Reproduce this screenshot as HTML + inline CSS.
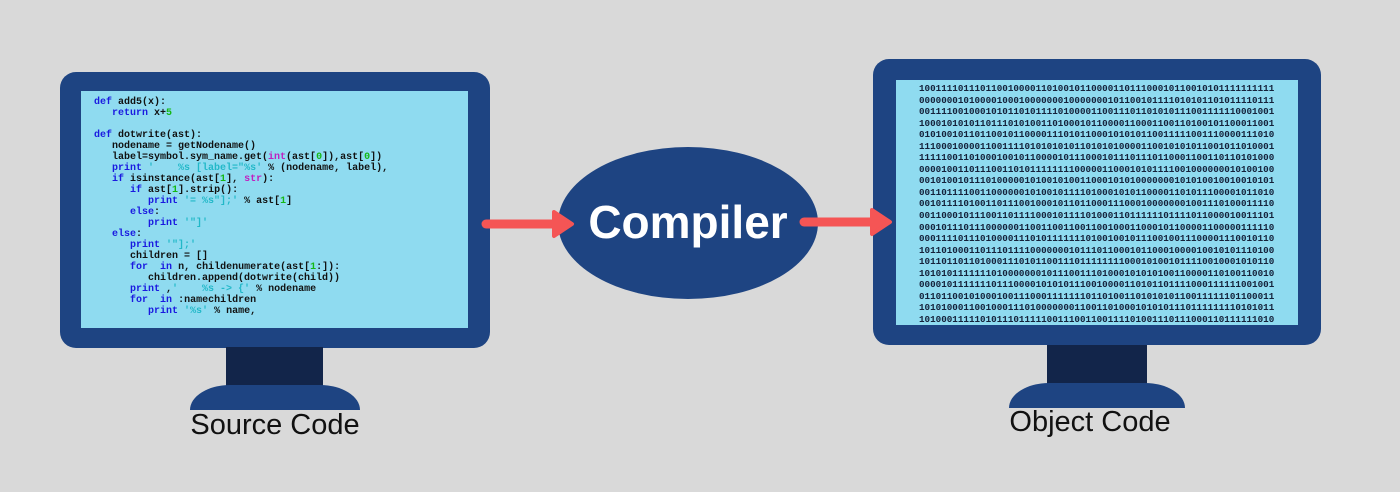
<!DOCTYPE html>
<html><head><meta charset="utf-8"><style>
html,body{margin:0;padding:0;}
body{width:1400px;height:492px;background:#d9d9d9;position:relative;overflow:hidden;font-family:"Liberation Sans",sans-serif;}
.abs{position:absolute;}
pre{margin:0;font-family:"Liberation Mono",monospace;font-weight:bold;}
.code{font-size:10px;line-height:11px;color:#111;}
.k{color:#1a1ae0}.s{color:#22b8c8}.n{color:#14b814}.m{color:#c020c0}
.bin{font-size:9.25px;line-height:11.55px;color:#14213a;letter-spacing:0px;}
.lbl{font-size:29px;color:#111;text-align:center;}
</style></head><body>
<!-- left monitor -->
<div class="abs" style="left:60px;top:72px;width:430px;height:276px;background:#1e4482;border-radius:16px;"></div>
<div class="abs" style="left:81px;top:91px;width:387px;height:237px;background:#8fdbf0;overflow:hidden;">
<pre class="code abs" style="left:13px;top:6px;"><span class="k">def</span> add5(x):
   <span class="k">return</span> x+<span class="n">5</span>

<span class="k">def</span> dotwrite(ast):
   nodename = getNodename()
   label=symbol.sym_name.get(<span class="m">int</span>(ast[<span class="n">0</span>]),ast[<span class="n">0</span>])
   <span class="k">print</span> <span class="s">'    %s [label="%s'</span> % (nodename, label),
   <span class="k">if</span> isinstance(ast[<span class="n">1</span>], <span class="m">str</span>):
      <span class="k">if</span> ast[<span class="n">1</span>].strip():
         <span class="k">print</span> <span class="s">'= %s"];'</span> % ast[<span class="n">1</span>]
      <span class="k">else</span>:
         <span class="k">print</span> <span class="s">'"]'</span>
   <span class="k">else</span>:
      <span class="k">print</span> <span class="s">'"];'</span>
      children = []
      <span class="k">for</span>  <span class="k">in</span> n, childenumerate(ast[<span class="n">1</span>:]):
         children.append(dotwrite(child))
      <span class="k">print</span> ,<span class="s">'    %s -&gt; {'</span> % nodename
      <span class="k">for</span>  <span class="k">in</span> :namechildren
         <span class="k">print</span> <span class="s">'%s'</span> % name,</pre>
</div>
<div class="abs" style="left:226px;top:347px;width:97px;height:39px;background:#12254a;"></div>
<div class="abs" style="left:190px;top:385px;width:170px;height:25px;background:#1e4482;border-radius:40px 40px 0 0/25px 25px 0 0;"></div>
<div class="abs lbl" style="left:125px;top:409px;width:300px;">Source Code</div>

<!-- right monitor -->
<div class="abs" style="left:873px;top:59px;width:448px;height:286px;background:#1e4482;border-radius:16px;"></div>
<div class="abs" style="left:896px;top:80px;width:402px;height:245px;background:#8fdbf0;overflow:hidden;">
<pre class="bin abs" style="left:23px;top:3px;">1001111011101100100001101001011000011011100010110010101111111111
0000000101000010001000000010000000101100101111010101101011110111
0011110010001010110101111010000110011101101010111001111110001001
1000101010110111010100110100010110000110001100110100101100011001
0101001011011001011000011101011000101010110011111001110000111010
1110001000011001111010101010110101010000110010101011001011010001
1111100110100010010110000101110001011101110110001100110110101000
0000100110111001101011111111000001100010101111001000000010100100
0010100101110100000101001010011000101010000000101010010010010101
0011011110011000000101001011110100010101100001101011100001011010
0010111101001101110010001011011000111000100000001001110100011110
0011000101110011011110001011110100011011111101111011000010011101
0001011101110000001100110011001100100011000101100001100000111110
0001111011101000011101011111110100100101110010011100001110010110
1011010001101110111100000001011101100010110001000010010101110100
1011011011010001110101100111011111111000101001011110010001010110
1010101111111010000000101110011101000101010100110000110100110010
0000101111111011100001010101110010000110101101111000111111001001
0110110010100010011100011111110110100110101010110011111101100011
1010100011001000111010000000110011010001010101110111111110101011
1010001111101011101111100111001100111101001110111000110111111010</pre>
</div>
<div class="abs" style="left:1047px;top:345px;width:100px;height:39px;background:#12254a;"></div>
<div class="abs" style="left:1009px;top:383px;width:176px;height:25px;background:#1e4482;border-radius:40px 40px 0 0/25px 25px 0 0;"></div>
<div class="abs lbl" style="left:940px;top:406px;width:300px;">Object Code</div>

<!-- compiler + arrows -->
<svg class="abs" style="left:0;top:0" width="1400" height="492">
<ellipse cx="688" cy="223" rx="130" ry="76" fill="#1e4482"/>
<text x="688" y="238" text-anchor="middle" font-family="Liberation Sans, sans-serif" font-weight="bold" font-size="46" fill="#fff">Compiler</text>
<line x1="486" y1="224" x2="556" y2="224" stroke="#f55555" stroke-width="9" stroke-linecap="round"/>
<polygon points="554,212 572,224 554,236" fill="#f55555" stroke="#f55555" stroke-width="4" stroke-linejoin="round"/>
<line x1="804" y1="222" x2="874" y2="222" stroke="#f55555" stroke-width="9" stroke-linecap="round"/>
<polygon points="872,210 890,222 872,234" fill="#f55555" stroke="#f55555" stroke-width="4" stroke-linejoin="round"/>
</svg>
</body></html>
